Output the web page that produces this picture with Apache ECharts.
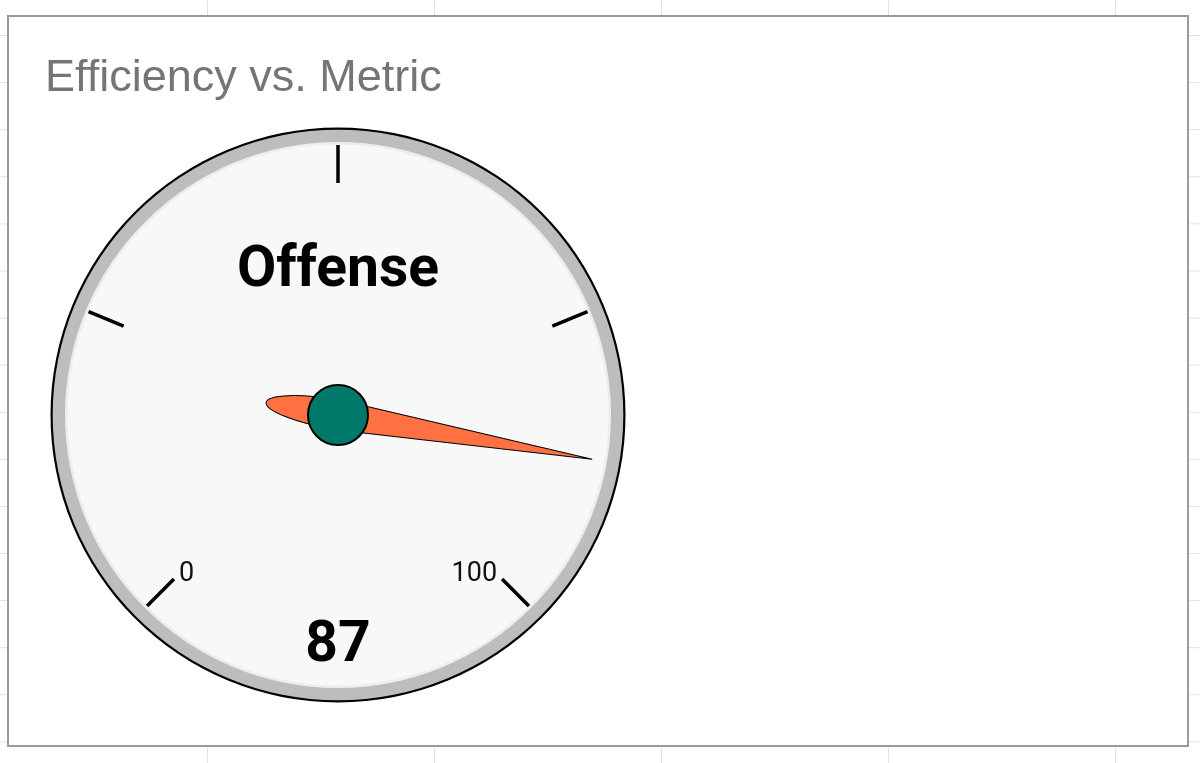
<!DOCTYPE html>
<html>
<head>
<meta charset="utf-8">
<script src="https://cdn.jsdelivr.net/npm/echarts@6/dist/echarts.min.js"></script>
<style>
  html, body { margin: 0; padding: 0; width: 1200px; height: 763px; overflow: hidden; }
  body {
    background-color: #ffffff;
    background-image:
      linear-gradient(to right, #e2e2e2 1px, transparent 1px),
      linear-gradient(to bottom, #e2e2e2 1px, transparent 1px);
    background-size: 227px 100%, 100% 47.1px;
    background-position: 207px 0, 0 35px;
  }
  #box {
    position: absolute; left: 7px; top: 15px;
    width: 1178px; height: 728px;
    border: 2px solid #9a9a9a; background: #ffffff;
  }
  #chart { width: 1178px; height: 728px; }
</style>
</head>
<body>
<div id="box"><div id="chart"></div></div>
<script>
// ---- data ----
const chartTitle = 'Efficiency vs. Metric';
const gaugeNames = ['Offense'];
const gaugeValues = [87];
const scaleMin = 0;
const scaleMax = 100;
const shownTickLabels = [0, 100];

// ---- layout / style ----
const center = [329, 398];
const faceRadius = 270;
const needlePath = 'path://M15 0 L30 258 C30 298.3 23.3 331 15 331 C6.7 331 0 298.3 0 258 Z';

function disc(radius, color) {
  return {
    type: 'gauge', silent: true, center: center, radius: radius,
    startAngle: 90, endAngle: -270, min: 0, max: 1,
    axisLine: { show: true, lineStyle: { width: radius, color: [[1, color]] } },
    progress: { show: false }, pointer: { show: false }, anchor: { show: false },
    axisTick: { show: false }, splitLine: { show: false }, axisLabel: { show: false },
    title: { show: false }, detail: { show: false }, data: []
  };
}

const chart = echarts.init(document.getElementById('chart'));
chart.setOption({
  animation: false,
  title: {
    text: chartTitle, left: 36, top: 39, padding: 0,
    textStyle: { fontFamily: 'Liberation Sans', fontSize: 45, fontWeight: 'normal', color: '#757575' }
  },
  series: [
    disc(287.5, '#000000'),
    disc(285.3, '#bdbdbd'),
    disc(273, '#ededed'),
    disc(270.5, '#f8f8f8'),
    {
      type: 'gauge', center: center, radius: faceRadius,
      startAngle: 225, endAngle: -45, min: scaleMin, max: scaleMax, splitNumber: 4,
      axisLine: { show: false, lineStyle: { width: 0 } },
      progress: { show: false },
      axisTick: { show: false },
      splitLine: { show: true, length: 38, distance: 0, lineStyle: { color: '#000', width: 3.5, cap: 'butt' } },
      axisLabel: {
        show: true, distance: 7, color: '#111', fontSize: 27, fontFamily: 'Roboto',
        formatter: function (v) { return shownTickLabels.indexOf(Math.round(v)) >= 0 ? String(Math.round(v)) : ''; }
      },
      pointer: {
        show: true, icon: needlePath, length: 331, width: 30, offsetCenter: [0, 73], keepAspect: false,
        itemStyle: { color: '#ff7043', borderColor: '#000', borderWidth: 1 }
      },
      anchor: {
        show: true, showAbove: true, size: 60,
        itemStyle: { color: '#00796b', borderColor: '#000', borderWidth: 2 }
      },
      title: {
        show: true, offsetCenter: [0, -143], fontSize: 57, fontWeight: 'bold', color: '#000', fontFamily: 'Roboto'
      },
      detail: {
        show: true, offsetCenter: [0, 232], fontSize: 57, fontWeight: 'bold', color: '#000', fontFamily: 'Roboto',
        formatter: '{value}', valueAnimation: false
      },
      data: gaugeNames.map(function (n, i) { return { name: n, value: gaugeValues[i] }; })
    }
  ]
});
</script>
</body>
</html>
